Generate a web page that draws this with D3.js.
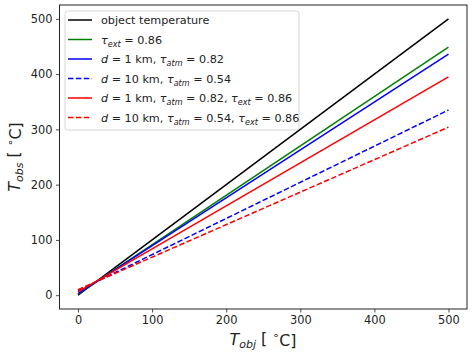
<!DOCTYPE html>
<html>
<head>
<meta charset="utf-8">
<script src="https://cdn.jsdelivr.net/npm/d3@7"></script>
<style>
  body { margin: 0; background: #fff; }
  text { font-family: "DejaVu Sans", sans-serif; fill: #222; }
</style>
</head>
<body>
<script>
(function(){

//values (T_obj at 0 and 500 degC)
var tObj = [0, 500];
var objectTemp = [0, 500];
var extOnly = [2, 449];
var near = [3, 436];
var far = [8, 335];
var nearExt = [6, 395];
var farExt = [10, 304];

var xTicks = [0, 100, 200, 300, 400, 500];
var yTicks = [0, 100, 200, 300, 400, 500];

var seriesNames = ["object", "ext", "near", "far", "nearExt", "farExt"];
var seriesValues = [objectTemp, extOnly, near, far, nearExt, farExt];
var seriesColors = ["#000000", "#008000", "#0000ff", "#0000ff", "#ff0000", "#ff0000"];
var seriesDashed = [false, false, false, true, false, true];

var width = 474, height = 357;
var margin = {left: 59.5, right: 7, top: 5, bottom: 48};

var svg = d3.select("body").append("svg")
    .attr("width", width)
    .attr("height", height);

var x = d3.scaleLinear()
    .domain([-25, 525])
    .range([margin.left, width - margin.right]);

var y = d3.scaleLinear()
    .domain([-25, 525])
    .range([height - margin.bottom, margin.top]);

//axes
var xAxis = svg.append("g")
    .attr("transform", "translate(0," + (height - margin.bottom) + ")")
    .call(d3.axisBottom(x).tickValues(xTicks).tickSize(3.5).tickPadding(3.5));

var yAxis = svg.append("g")
    .attr("transform", "translate(" + margin.left + ",0)")
    .call(d3.axisLeft(y).tickValues(yTicks).tickSize(3.5).tickPadding(3.5));

[xAxis, yAxis].forEach(function(a){
    a.select(".domain").remove();
    a.selectAll("line").attr("stroke", "#222").attr("stroke-width", 0.8);
    a.selectAll("text").style("font-size", "11.4px").attr("fill", "#222")
        .style("font-family", "DejaVu Sans, sans-serif");
});

//frame
svg.append("rect")
    .attr("x", margin.left)
    .attr("y", margin.top)
    .attr("width", width - margin.left - margin.right)
    .attr("height", height - margin.top - margin.bottom)
    .attr("fill", "none")
    .attr("stroke", "#222")
    .attr("stroke-width", 1);

//lines
var line = d3.line()
    .x(function(d, i){ return x(tObj[i]); })
    .y(function(d){ return y(d); });

seriesValues.forEach(function(vals, i){
    svg.append("path")
        .datum(vals)
        .attr("class", "series " + seriesNames[i])
        .attr("d", line)
        .attr("fill", "none")
        .attr("stroke", seriesColors[i])
        .attr("stroke-width", 1.5)
        .attr("stroke-dasharray", seriesDashed[i] ? "5.5,2.4" : null);
});

//axis labels with subscripts
function label(g, main, sub){
    g.append("tspan").style("font-style", "italic").text(main);
    g.append("tspan").style("font-style", "italic").style("font-size", "0.7em")
        .attr("dy", "0.3em").text(sub);
    g.append("tspan").attr("dy", "-0.3em").text(" [ ");
    g.append("tspan").style("font-size", "0.7em").attr("dy", "-0.45em").text("\u2218");
    g.append("tspan").attr("dy", "0.45em").text("C]");
}

var xl = svg.append("text")
    .attr("x", 263)
    .attr("y", 345)
    .attr("text-anchor", "middle")
    .style("font-size", "15.8px");
label(xl, "T", "obj");

var yl = svg.append("text")
    .attr("transform", "translate(20,157) rotate(-90)")
    .attr("text-anchor", "middle")
    .style("font-size", "15.8px");
label(yl, "T", "obs");

//legend
var legend = svg.append("g").attr("class", "legend");
legend.append("rect")
    .attr("x", 65).attr("y", 11)
    .attr("width", 234).attr("height", 119)
    .attr("rx", 2.5)
    .attr("fill", "#fff").attr("fill-opacity", 0.8)
    .attr("stroke", "#ccc").attr("stroke-width", 0.8);

//legend text pieces: [text, italic, subscript]
var legendLabels = [
    [["object temperature", 0, 0]],
    [["\u03c4", 1, 0], ["ext", 1, 1], [" = 0.86", 0, 0]],
    [["d", 1, 0], [" = 1 km, ", 0, 0], ["\u03c4", 1, 0], ["atm", 1, 1], [" = 0.82", 0, 0]],
    [["d", 1, 0], [" = 10 km, ", 0, 0], ["\u03c4", 1, 0], ["atm", 1, 1], [" = 0.54", 0, 0]],
    [["d", 1, 0], [" = 1 km, ", 0, 0], ["\u03c4", 1, 0], ["atm", 1, 1], [" = 0.82, ", 0, 0], ["\u03c4", 1, 0], ["ext", 1, 1], [" = 0.86", 0, 0]],
    [["d", 1, 0], [" = 10 km, ", 0, 0], ["\u03c4", 1, 0], ["atm", 1, 1], [" = 0.54, ", 0, 0], ["\u03c4", 1, 0], ["ext", 1, 1], [" = 0.86", 0, 0]]
];

legendLabels.forEach(function(parts, i){
    var ly = 20 + i * 19.5;
    legend.append("line")
        .attr("x1", 68).attr("x2", 92)
        .attr("y1", ly).attr("y2", ly)
        .attr("stroke", seriesColors[i])
        .attr("stroke-width", 1.5)
        .attr("stroke-dasharray", seriesDashed[i] ? "5.5,2.4" : null);
    var t = legend.append("text")
        .attr("x", 101).attr("y", ly + 4)
        .style("font-size", "11.2px");
    var down = false;
    parts.forEach(function(p){
        var s = t.append("tspan").text(p[0]);
        if (p[1]) s.style("font-style", "italic");
        if (p[2]) { s.style("font-size", "8.1px").attr("dy", "3"); down = true; }
        else if (down) { s.attr("dy", "-3"); down = false; }
    });
});

})();
</script>
</body>
</html>
